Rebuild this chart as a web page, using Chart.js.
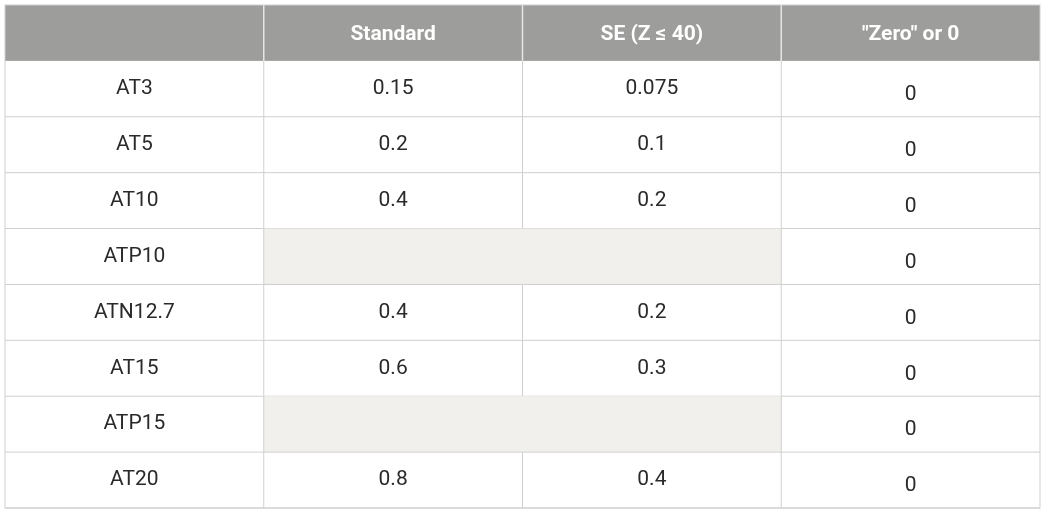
<!DOCTYPE html>
<html><head><meta charset="utf-8">
<script src="https://cdn.jsdelivr.net/npm/chart.js@4"></script>
<style>html,body{margin:0;padding:0;background:#fff}#w{width:1049px;height:522px}</style>
</head><body><div id="w"><canvas id="c"></canvas></div>
<script>
const columns = ["", "Standard", "SE (Z \u2264 40)", "\"Zero\" or 0"];
const rows = ["AT3","AT5","AT10","ATP10","ATN12.7","AT15","ATP15","AT20"];
const standard = ["0.15","0.2","0.4",null,"0.4","0.6",null,"0.8"];
const se = ["0.075","0.1","0.2",null,"0.2","0.3",null,"0.4"];
const zero = ["0","0","0","0","0","0","0","0"];
const yLabels = ["header"].concat(rows);

const tablePlugin = {
  id: 'table',
  afterDraw(chart) {
    const ctx = chart.ctx, xs = chart.scales.x, ys = chart.scales.y;
    const cw = xs.width / columns.length, rh = ys.height / yLabels.length;
    const cell = (ci, ri) => ({x: xs.getPixelForValue(ci) - cw/2, y: ys.getPixelForValue(ri) - rh/2});
    ctx.save();
    // header
    const h0 = cell(0,0);
    ctx.fillStyle = '#9d9d9b';
    ctx.fillRect(h0.x, h0.y, cw*columns.length, rh);
    ctx.textAlign = 'center'; ctx.textBaseline = 'middle';
    ctx.font = 'bold 21px "Liberation Sans Narrow", "Roboto", sans-serif';
    ctx.fillStyle = '#fff';
    columns.forEach((c, ci) => { const p = cell(ci,0); ctx.fillText(c, p.x+cw/2, p.y+rh/2+2); });
    ctx.strokeStyle = '#e6e6e6'; ctx.lineWidth = 1.5;
    for (let ci = 1; ci < columns.length; ci++) { const p = cell(ci,0); ctx.beginPath(); ctx.moveTo(p.x, p.y); ctx.lineTo(p.x, p.y+rh); ctx.stroke(); }
    // body
    ctx.font = '21px "Liberation Sans Narrow", "Roboto", sans-serif';
    rows.forEach((r, i) => {
      const ri = i + 1;
      const vals = [r, standard[i], se[i], zero[i]];
      if (standard[i] === null) {
        const p = cell(1, ri);
        ctx.fillStyle = '#f1f0ed'; ctx.fillRect(p.x, p.y, cw*2, rh);
      }
      ctx.fillStyle = '#2a2a2a';
      vals.forEach((v, ci) => { if (v !== null) { const p = cell(ci, ri); ctx.fillText(v, p.x+cw/2, p.y+rh/2 + (ci===3?6:0)); } });
      // lines
      ctx.strokeStyle = '#cfcfcf'; ctx.lineWidth = 1;
      const p0 = cell(0, ri);
      ctx.beginPath(); ctx.moveTo(p0.x, p0.y+rh); ctx.lineTo(p0.x+cw*4, p0.y+rh); ctx.stroke();
      for (let ci = 1; ci < columns.length; ci++) {
        if (standard[i] === null && ci === 2) continue;
        const p = cell(ci, ri); ctx.beginPath(); ctx.moveTo(p.x, p.y); ctx.lineTo(p.x, p.y+rh); ctx.stroke();
      }
    });
    const a = chart.chartArea;
    ctx.strokeStyle = '#cfcfcf';
    ctx.strokeRect(a.left, a.top, a.right-a.left, a.bottom-a.top);
    ctx.restore();
  }
};

new Chart(document.getElementById('c'), {
  type: 'bar',
  data: { labels: columns, datasets: [{ data: columns.map(() => null) }] },
  options: {
    responsive: true, maintainAspectRatio: false, animation: false,
    layout: { padding: { left: 5, right: 9, top: 5, bottom: 14 } },
    plugins: { legend: { display: false }, tooltip: { enabled: false } },
    scales: {
      x: { type: 'category', labels: columns, display: false, offset: true },
      y: { type: 'category', labels: yLabels, display: false, offset: true }
    }
  },
  plugins: [tablePlugin]
});
</script></body></html>
